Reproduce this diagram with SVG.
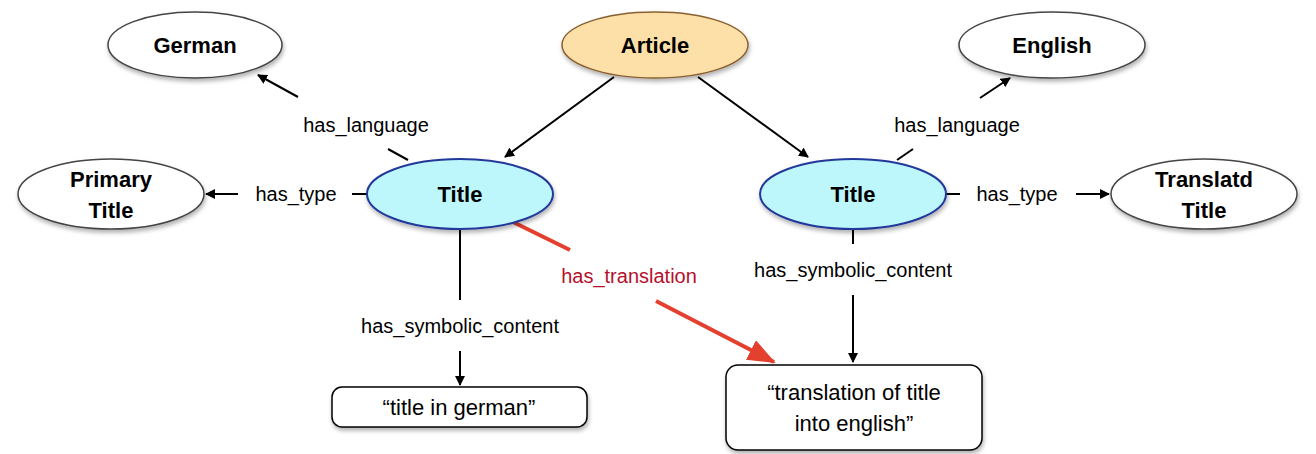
<svg xmlns="http://www.w3.org/2000/svg" width="1316" height="454" viewBox="0 0 1316 454">
<style>
text{font-family:"Liberation Sans",Arial,sans-serif;text-anchor:middle;dominant-baseline:central}
.n{font-weight:bold;font-size:22px;fill:#000}
.l{font-size:20px;fill:#000}
.w{fill:#fff;stroke:#444;stroke-width:1.5}
.t{fill:#bdf7fb;stroke:#23399a;stroke-width:2}
.e{stroke:#000;stroke-width:2;fill:none}
.r{stroke:#e3402f;stroke-width:4;fill:none}
</style>
<defs>
<marker id="a" markerWidth="10" markerHeight="10" refX="9" refY="5" orient="auto" markerUnits="userSpaceOnUse"><path d="M0,0 L10,5 L0,10 z" fill="#000"/></marker>
<marker id="ar" markerWidth="28" markerHeight="22" refX="26" refY="11" orient="auto" markerUnits="userSpaceOnUse"><path d="M0,0 L28,11 L0,22 z" fill="#e3402f"/></marker>
<filter id="s" x="-10%" y="-10%" width="130%" height="140%"><feDropShadow dx="1" dy="3" stdDeviation="2" flood-opacity="0.3"/></filter>
</defs>
<g id="connectors">
<line class="e" x1="614" y1="77" x2="505" y2="157" marker-end="url(#a)"/>
<line class="e" x1="698" y1="77" x2="808" y2="157" marker-end="url(#a)"/>
<line class="e" x1="408" y1="160" x2="388" y2="149"/>
<text class="l" x="366" y="125">has_language</text>
<line class="e" x1="298" y1="97" x2="258" y2="75" marker-end="url(#a)"/>
<line class="e" x1="897" y1="160" x2="913" y2="149"/>
<text class="l" x="957" y="125">has_language</text>
<line class="e" x1="980" y1="98" x2="1010" y2="78" marker-end="url(#a)"/>
<line class="e" x1="367" y1="194" x2="352" y2="194"/>
<text class="l" x="296" y="194">has_type</text>
<line class="e" x1="238" y1="194" x2="206" y2="194" marker-end="url(#a)"/>
<line class="e" x1="946" y1="194" x2="960" y2="194"/>
<text class="l" x="1017" y="194">has_type</text>
<line class="e" x1="1076" y1="194" x2="1109" y2="194" marker-end="url(#a)"/>
<line class="e" x1="460" y1="229" x2="460" y2="300"/>
<text class="l" x="460" y="326">has_symbolic_content</text>
<line class="e" x1="460" y1="351" x2="460" y2="385" marker-end="url(#a)"/>
<line class="e" x1="853" y1="229" x2="853" y2="244"/>
<text class="l" x="853" y="270">has_symbolic_content</text>
<line class="e" x1="853" y1="295" x2="853" y2="362" marker-end="url(#a)"/>
<line class="r" x1="513" y1="222" x2="570" y2="250"/>
<text class="l" x="629" y="276" style="fill:#b5102c">has_translation</text>
<line class="r" x1="656" y1="301" x2="774" y2="362" marker-end="url(#ar)"/>
</g>
<g id="article"><ellipse cx="655" cy="45" rx="93" ry="33" fill="#fde0a8" stroke="#8a6030" stroke-width="1.5" filter="url(#s)"/><text class="n" x="655" y="45">Article</text></g>
<g id="german"><ellipse class="w" cx="195" cy="45" rx="87" ry="33" filter="url(#s)"/><text class="n" x="195" y="45">German</text></g>
<g id="english"><ellipse class="w" cx="1052" cy="45" rx="93" ry="33" filter="url(#s)"/><text class="n" x="1052" y="45">English</text></g>
<g id="title-de"><ellipse class="t" cx="460" cy="194" rx="93" ry="35" filter="url(#s)"/><text class="n" x="460" y="194">Title</text></g>
<g id="title-en"><ellipse class="t" cx="853" cy="194" rx="93" ry="35" filter="url(#s)"/><text class="n" x="853" y="194">Title</text></g>
<g id="primary"><ellipse class="w" cx="111" cy="194" rx="93" ry="35" filter="url(#s)"/><text class="n" x="111" y="179">Primary</text><text class="n" x="111" y="210">Title</text></g>
<g id="translated"><ellipse class="w" cx="1204" cy="194" rx="93" ry="35" filter="url(#s)"/><text class="n" x="1204" y="179">Translatd</text><text class="n" x="1204" y="210">Title</text></g>
<g id="content-de"><rect x="332" y="387" width="255" height="40" rx="10" fill="#fff" stroke="#000" stroke-width="1.5" filter="url(#s)"/><text class="l" x="459" y="407" style="font-size:22px">“title in german”</text></g>
<g id="content-en"><rect x="726" y="365" width="256" height="85" rx="12" fill="#fff" stroke="#000" stroke-width="1.5" filter="url(#s)"/><text class="l" x="854" y="392" style="font-size:22px">“translation of title</text><text class="l" x="854" y="423" style="font-size:22px">into english”</text></g>
</svg>
